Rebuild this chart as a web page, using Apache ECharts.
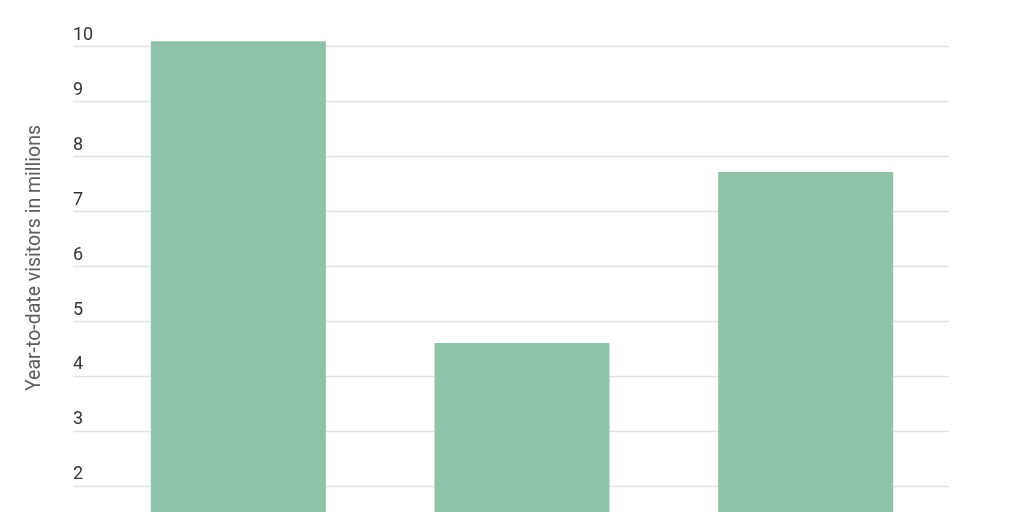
<!DOCTYPE html>
<html>
<head>
<meta charset="utf-8">
<script src="https://cdn.jsdelivr.net/npm/echarts@6/dist/echarts.min.js"></script>
<style>
html,body{margin:0;padding:0;background:#fff;}
#chart{width:1024px;height:512px;}
</style>
</head>
<body>
<div id="chart"></div>
<script>
const categories = ['Category A', 'Category B', 'Category C'];
const visitors = [10.1, 4.61, 7.72];
const yTicks = [0, 1, 2, 3, 4, 5, 6, 7, 8, 9, 10];
const axisTitle = 'Year-to-date visitors in millions';

const chart = echarts.init(document.getElementById('chart'), null, {renderer: 'canvas'});
const font = 'Roboto, "Noto Sans", sans-serif';
chart.setOption({
  animation: false,
  backgroundColor: '#ffffff',
  textStyle: {fontFamily: font},
  grid: [
    {left: 73, width: 876, top: 46.7, bottom: -84.3, containLabel: false, outerBoundsMode: 'none'},
    {left: 96.5, width: 851, top: 46.7, bottom: -84.3, containLabel: false, outerBoundsMode: 'none'}
  ],
  xAxis: [
    {type: 'category', gridIndex: 0, data: categories, show: false},
    {type: 'category', gridIndex: 1, data: categories, show: false}
  ],
  yAxis: [
    {
      type: 'value', gridIndex: 0,
      min: yTicks[0], max: yTicks[yTicks.length - 1], interval: 1,
      axisLine: {show: false}, axisTick: {show: false},
      splitLine: {show: true, lineStyle: {color: '#e1e1e1', width: 1.3}},
      axisLabel: {
        inside: true, margin: 0, align: 'left', verticalAlign: 'bottom',
        color: '#333333', fontSize: 18, fontFamily: font, lineHeight: 23
      }
    },
    {
      type: 'value', gridIndex: 1,
      min: yTicks[0], max: yTicks[yTicks.length - 1], interval: 1,
      show: false, splitLine: {show: false}
    }
  ],
  graphic: [{
    type: 'text',
    x: 35, y: 258,
    rotation: Math.PI / 2,
    style: {
      text: axisTitle,
      fill: '#5c5c5c',
      font: '19.5px ' + font,
      textAlign: 'center',
      textVerticalAlign: 'middle'
    }
  }],
  series: [{
    type: 'bar',
    xAxisIndex: 1, yAxisIndex: 1,
    data: visitors,
    barWidth: 175,
    clip: false,
    itemStyle: {color: '#8fc3a7'}
  }]
});
</script>
</body>
</html>
